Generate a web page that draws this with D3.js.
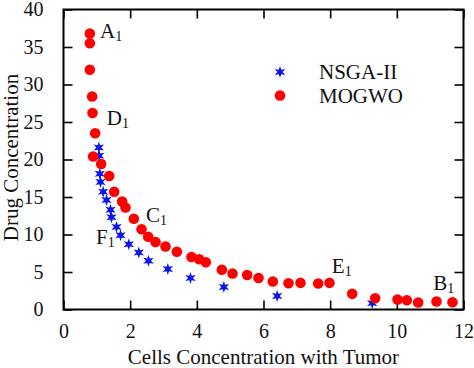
<!DOCTYPE html>
<html>
<head>
<meta charset="utf-8">
<script src="https://cdn.jsdelivr.net/npm/d3@7"></script>
<style>
  body { margin: 0; background: #fff; }
  text { font-family: "Liberation Serif", "Times New Roman", serif; fill: #111; }
</style>
</head>
<body>
<div id="chart"></div>
<script>
var svgWidth = 474;
var svgHeight = 368;

// NSGA-II points (cells concentration, drug concentration)
var nsgaX = [1.06, 1.07, 1.09, 1.11, 1.19, 1.29, 1.41, 1.44, 1.59, 1.71, 1.96, 2.26, 2.55, 3.13, 3.81, 4.81, 6.41, 9.26];
var nsgaY = [21.6, 20.5, 18.1, 17.0, 15.7, 14.6, 13.3, 12.3, 11.0, 9.9, 8.7, 7.6, 6.5, 5.4, 4.2, 3.0, 1.8, 0.85];

// MOGWO points
var mogwoX = [0.79, 0.79, 0.79, 0.86, 0.87, 0.95, 0.89, 1.13, 1.37, 1.52, 1.76, 1.86, 2.11, 2.34, 2.54, 2.76, 3.06, 3.40,
  3.84, 4.07, 4.27, 4.75, 5.07, 5.51, 5.85, 6.28, 6.75, 7.11, 7.64, 7.98, 8.66, 9.35, 10.02, 10.3, 10.64, 11.19, 11.67];
var mogwoY = [36.8, 35.5, 31.96, 28.4, 26.2, 23.5, 20.4, 19.4, 17.8, 15.7, 14.4, 13.6, 12.1, 10.7, 9.7, 9.0, 8.4, 7.7,
  7.0, 6.7, 6.3, 5.3, 4.8, 4.6, 4.2, 3.73, 3.5, 3.55, 3.47, 3.55, 2.09, 1.5, 1.33, 1.24, 0.93, 1.07, 0.97];

// point annotations
var annNames = ["A", "D", "C", "F", "E", "B"];
var annX = [1.095, 1.30, 2.475, 0.975, 8.05, 11.09];
var annY = [36.2, 24.6, 11.7, 8.73, 4.83, 2.6];

var xTicks = [0, 2, 4, 6, 8, 10, 12];
var yTicks = [0, 5, 10, 15, 20, 25, 30, 35, 40];

var margin = { top: 9.5, right: 10.5, bottom: 58.5, left: 63.5 };
var width = svgWidth - margin.left - margin.right;
var height = svgHeight - margin.top - margin.bottom;

var svg = d3.select("#chart").append("svg")
  .attr("width", svgWidth)
  .attr("height", svgHeight);

var chartGroup = svg.append("g")
  .attr("transform", `translate(${margin.left}, ${margin.top})`);

var xScale = d3.scaleLinear().domain([0, 12]).range([0, width]);
var yScale = d3.scaleLinear().domain([0, 40]).range([height, 0]);

// inward ticks on all four sides
var tickLen = 9;
chartGroup.append("g")
  .attr("transform", `translate(0, ${height})`)
  .call(d3.axisBottom(xScale).tickValues(xTicks).tickSizeInner(-tickLen).tickSizeOuter(0).tickPadding(14))
  .call(g => g.select(".domain").remove())
  .call(g => g.selectAll("line").attr("stroke-width", 1.6))
  .call(g => g.selectAll("text").attr("font-size", "20px").attr("fill", "#111").attr("font-family", "Liberation Serif"));

chartGroup.append("g")
  .call(d3.axisTop(xScale).tickValues(xTicks).tickSizeInner(-tickLen).tickSizeOuter(0).tickFormat(""))
  .call(g => g.select(".domain").remove())
  .call(g => g.selectAll("line").attr("stroke-width", 1.6));

chartGroup.append("g")
  .call(d3.axisLeft(yScale).tickValues(yTicks).tickSizeInner(-tickLen).tickSizeOuter(0).tickPadding(20))
  .call(g => g.select(".domain").remove())
  .call(g => g.selectAll("line").attr("stroke-width", 1.6))
  .call(g => g.selectAll("text").attr("font-size", "20px").attr("fill", "#111").attr("font-family", "Liberation Serif"));

chartGroup.append("g")
  .attr("transform", `translate(${width}, 0)`)
  .call(d3.axisRight(yScale).tickValues(yTicks).tickSizeInner(-tickLen).tickSizeOuter(0).tickFormat(""))
  .call(g => g.select(".domain").remove())
  .call(g => g.selectAll("line").attr("stroke-width", 1.6));

// frame
chartGroup.append("rect")
  .attr("width", width)
  .attr("height", height)
  .attr("fill", "none")
  .attr("stroke", "#000")
  .attr("stroke-width", 2);

// 6-pointed star symbol
var star6 = {
  draw: function (context, size) {
    var r = Math.sqrt(size) / 2, ri = r * 0.42;
    for (var i = 0; i < 12; i++) {
      var a = -Math.PI / 2 + i * Math.PI / 6;
      var rr = i % 2 === 0 ? r : ri;
      if (i === 0) context.moveTo(rr * Math.cos(a), rr * Math.sin(a));
      else context.lineTo(rr * Math.cos(a), rr * Math.sin(a));
    }
    context.closePath();
  }
};
var starPath = d3.symbol().type(star6).size(145);

chartGroup.selectAll(".star")
  .data(nsgaX)
  .enter()
  .append("path")
  .attr("class", "star")
  .attr("d", starPath)
  .attr("transform", (d, i) => `translate(${xScale(d)}, ${yScale(nsgaY[i])})`)
  .attr("fill", "#0a14f0");

chartGroup.selectAll(".dot")
  .data(mogwoX)
  .enter()
  .append("circle")
  .attr("class", "dot")
  .attr("cx", d => xScale(d))
  .attr("cy", (d, i) => yScale(mogwoY[i]))
  .attr("r", 5.3)
  .attr("fill", "#ff0000");

// annotations with subscript
var ann = chartGroup.selectAll(".ann")
  .data(annNames)
  .enter()
  .append("text")
  .attr("class", "ann")
  .attr("x", (d, i) => xScale(annX[i]))
  .attr("y", (d, i) => yScale(annY[i]))
  .attr("font-size", "21px");
ann.append("tspan").text(d => d);
ann.append("tspan").attr("font-size", "14px").attr("dy", 3).text("1");

// legend
var legend = svg.append("g");
legend.append("path")
  .attr("d", starPath)
  .attr("transform", "translate(280, 72)")
  .attr("fill", "#0a14f0");
legend.append("circle")
  .attr("cx", 280)
  .attr("cy", 95.5)
  .attr("r", 5.3)
  .attr("fill", "#ff0000");
legend.append("text")
  .attr("x", 319)
  .attr("y", 78.5)
  .attr("font-size", "21px")
  .text("NSGA-II");
legend.append("text")
  .attr("x", 319)
  .attr("y", 103)
  .attr("font-size", "21px")
  .text("MOGWO");

// axis titles
svg.append("text")
  .attr("x", margin.left + width / 2)
  .attr("y", 364)
  .attr("text-anchor", "middle")
  .attr("font-size", "21px")
  .text("Cells Concentration with Tumor");

svg.append("text")
  .attr("transform", "rotate(-90)")
  .attr("x", -157.5)
  .attr("y", 18)
  .attr("text-anchor", "middle")
  .attr("font-size", "21px")
  .text("Drug Concentration");
</script>
</body>
</html>
